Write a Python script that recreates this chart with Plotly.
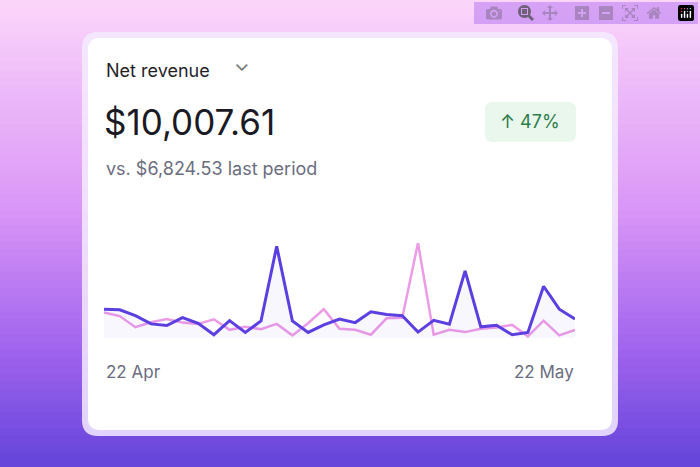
import plotly.graph_objects as go

days = list(range(31))
current = [88, 86, 68, 43, 38, 62, 45, 10, 53, 17, 52, 280, 52, 17, 40, 58, 47, 80, 72, 68, 18, 54, 42, 205, 34, 39, 10, 17, 158, 88, 58]
previous = [78, 67, 33, 48, 58, 47, 43, 57, 25, 34, 27, 43, 8, 45, 88, 28, 25, 10, 60, 62, 290, 10, 25, 18, 28, 32, 40, 5, 53, 8, 25]

W, H = 700, 467
fig = go.Figure()
fig.add_trace(go.Scatter(x=days, y=previous, mode="lines", line=dict(color="#ec9be6", width=2.5), hoverinfo="skip"))
fig.add_trace(go.Scatter(x=days, y=current, mode="lines", line=dict(color="#5b3fe0", width=3),
                         fill="tozeroy", fillcolor="rgba(120,90,240,0.05)", hoverinfo="skip"))

shapes = []
n = 60
def lerp(a, b, t): return tuple(int(a[i] + (b[i] - a[i]) * t) for i in range(3))
stops = [(0, (252, 214, 251)), (0.45, (218, 150, 247)), (0.75, (160, 100, 238)), (1, (100, 68, 218))]
for k in range(n):
    t = (k + 0.5) / n
    for j in range(len(stops) - 1):
        if stops[j][0] <= t <= stops[j + 1][0]:
            c = lerp(stops[j][1], stops[j + 1][1], (t - stops[j][0]) / (stops[j + 1][0] - stops[j][0]))
            break
    shapes.append(dict(type="rect", xref="paper", yref="paper", x0=0, x1=1, y0=1 - (k + 1) / n - 0.002, y1=1 - k / n,
                       fillcolor="rgb(%d,%d,%d)" % c, line=dict(width=0), layer="below"))

def rrect(x0, y0, x1, y1, r):
    def p(x, y): return "%f,%f" % (x / W, 1 - y / H)
    return ("M %s L %s Q %s %s L %s Q %s %s L %s Q %s %s L %s Q %s %s Z" % (
        p(x0 + r, y0), p(x1 - r, y0), p(x1, y0), p(x1, y0 + r), p(x1, y1 - r), p(x1, y1), p(x1 - r, y1),
        p(x0 + r, y1), p(x0, y1), p(x0, y1 - r), p(x0, y0 + r), p(x0, y0), p(x0 + r, y0)))

shapes.append(dict(type="path", xref="paper", yref="paper", path=rrect(82, 32, 618, 436, 16),
                   fillcolor="rgba(245,235,255,0.85)", line=dict(width=0), layer="below"))
shapes.append(dict(type="path", xref="paper", yref="paper", path=rrect(88, 38, 612, 430, 12),
                   fillcolor="white", line=dict(width=0), layer="below"))
shapes.append(dict(type="path", xref="paper", yref="paper", path=rrect(485, 102, 576, 142, 8),
                   fillcolor="#e9f7ec", line=dict(width=0), layer="below"))

def px(x): return x / W
def py(y): return 1 - y / H
ann = [
    dict(text="Net revenue", x=px(104), y=py(70), xanchor="left", font=dict(size=18, color="#1f1f2a")),
    dict(text="⌄", x=px(232), y=py(64), xanchor="left", font=dict(size=20, color="#777")),
    dict(text="$10,007.61", x=px(102), y=py(122), xanchor="left", font=dict(size=35, color="#1a1a24")),
    dict(text="↑ 47%", x=px(530), y=py(122), xanchor="center", font=dict(size=18, color="#2e7d4a")),
    dict(text="vs. $6,824.53 last period", x=px(104), y=py(168), xanchor="left", font=dict(size=18, color="#6b6d80")),
    dict(text="22 Apr", x=px(104), y=py(372), xanchor="left", font=dict(size=17, color="#6b6d80")),
    dict(text="22 May", x=px(576), y=py(372), xanchor="right", font=dict(size=17, color="#6b6d80")),
]
for a in ann:
    a.update(xref="paper", yref="paper", yanchor="middle", showarrow=False)
    a["font"]["family"] = "Inter"

fig.update_layout(
    width=W, height=H, margin=dict(l=0, r=0, t=0, b=0), showlegend=False,
    paper_bgcolor="#b070f0", plot_bgcolor="rgba(0,0,0,0)",
    xaxis=dict(domain=[px(104), px(575)], range=[0, 30], visible=False),
    yaxis=dict(domain=[py(338), py(243)], range=[0, 290], visible=False),
    shapes=shapes, annotations=ann,
)
fig.write_html("out.html", post_script="document.body.style.margin='0';document.body.style.overflow='hidden';")
